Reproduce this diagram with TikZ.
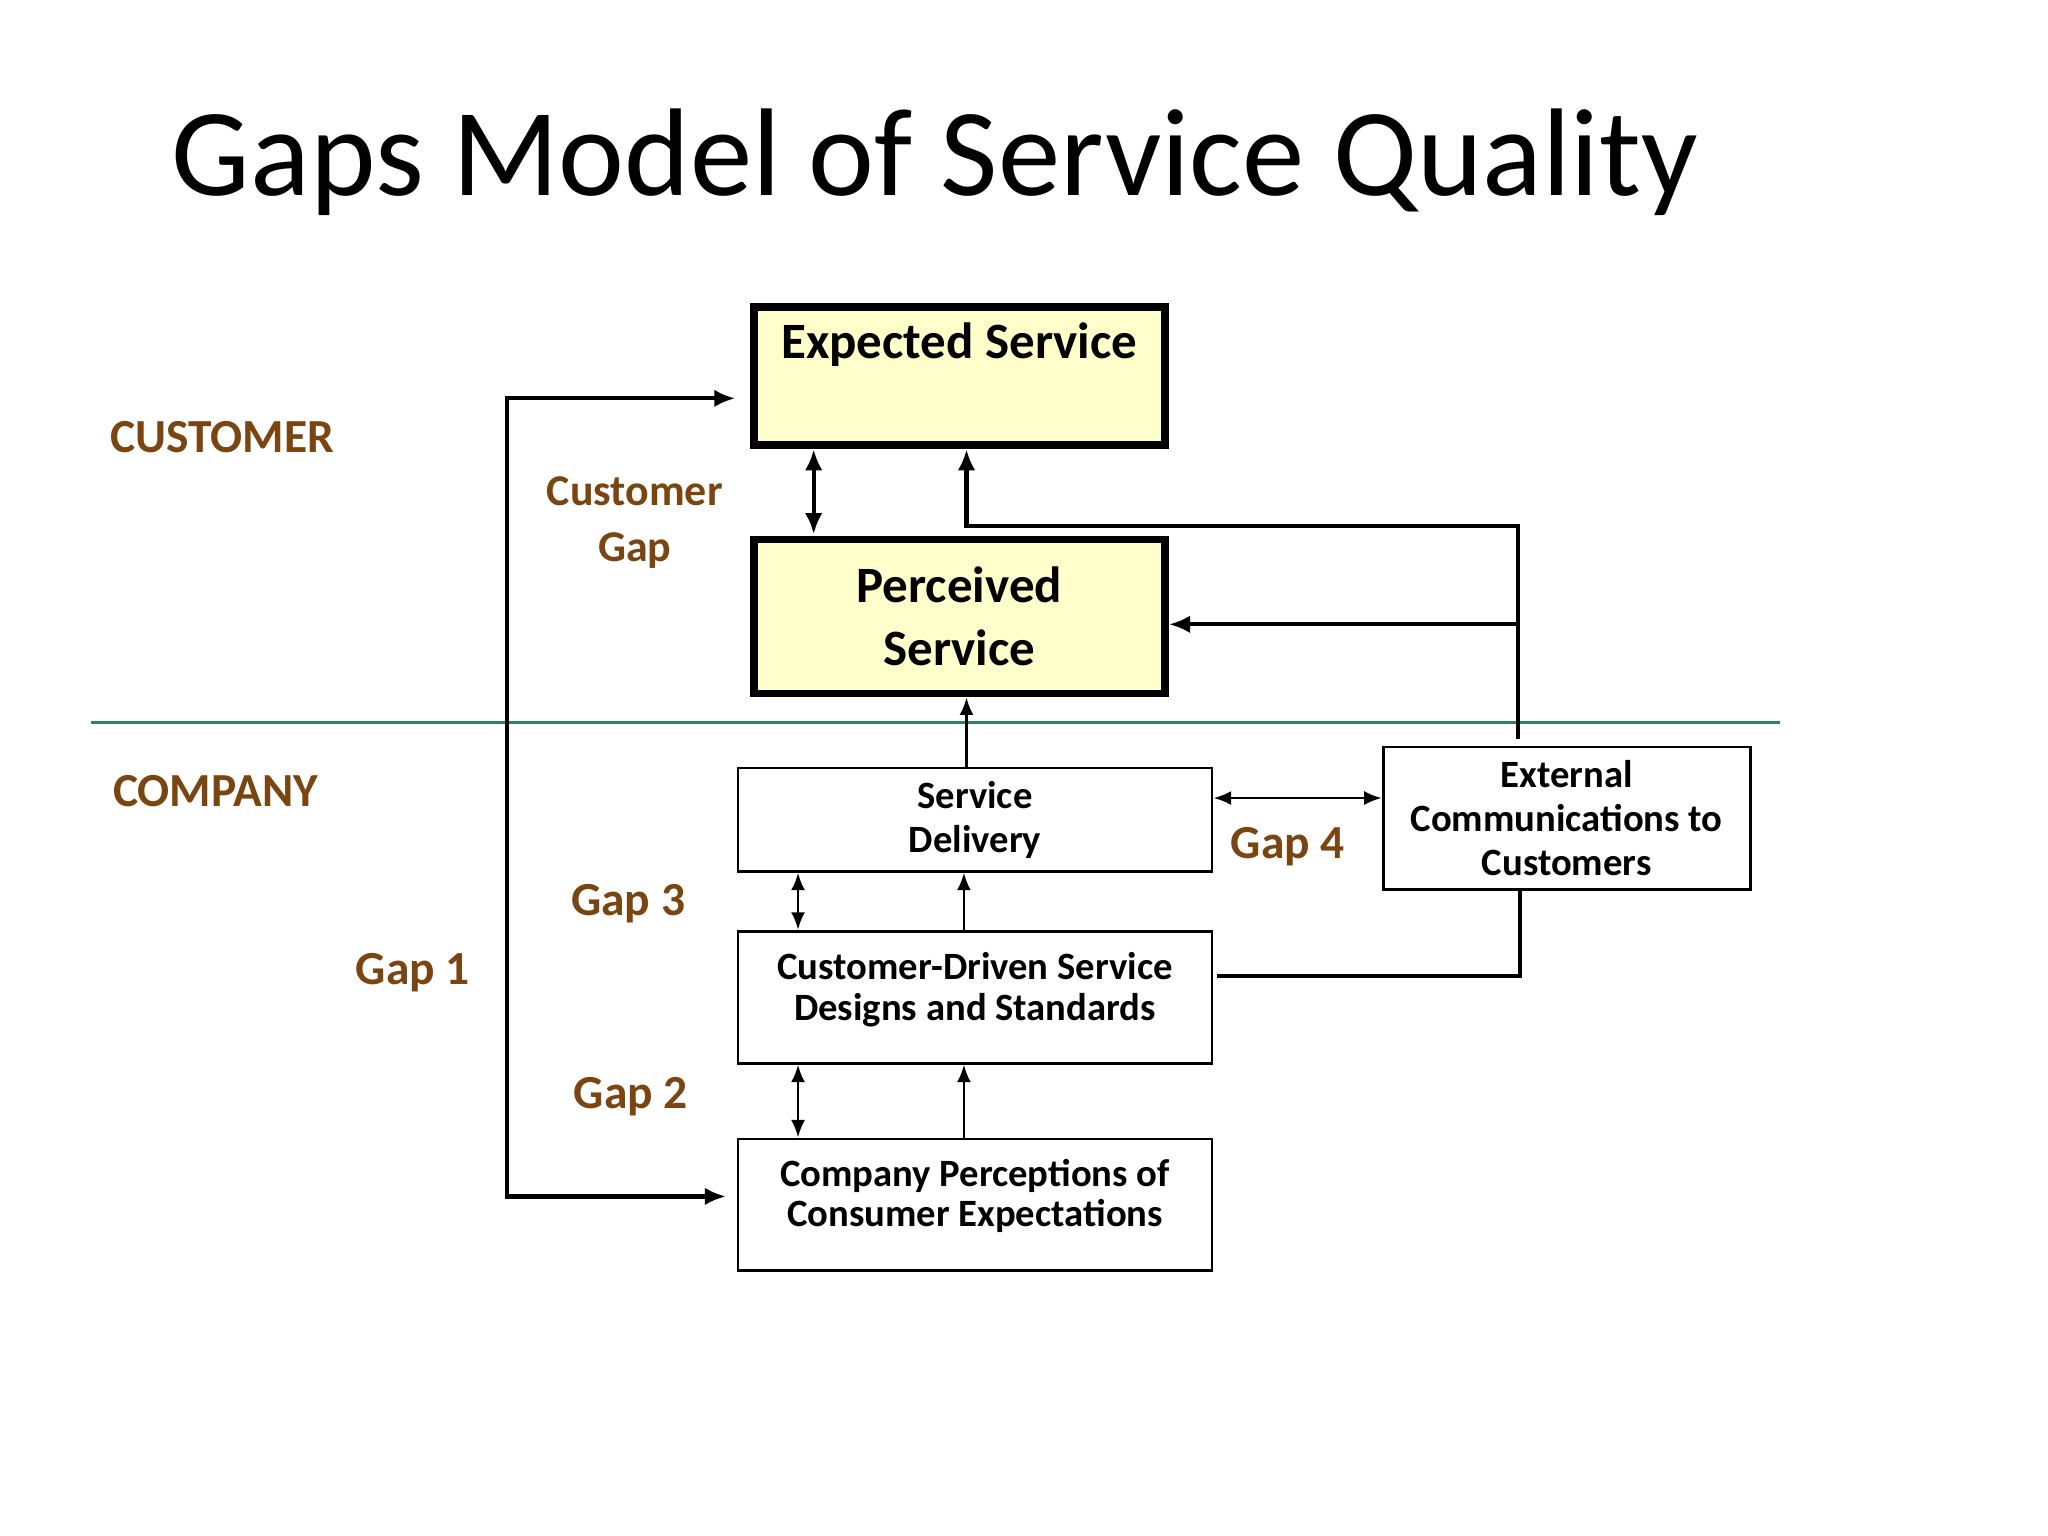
\documentclass[tikz,border=0pt]{standalone}
\usepackage{fontspec}
\setmainfont{Carlito}
\usetikzlibrary{arrows.meta}
\definecolor{brn}{HTML}{7A4510}
\definecolor{yel}{HTML}{FFFFCC}
\definecolor{grn}{HTML}{2E8060}
\begin{document}
\begin{tikzpicture}[x=0.01306cm,y=-0.01306cm,
  big/.style={draw,line width=2.2pt,fill=yel,inner sep=0pt},
  box/.style={draw,line width=0.8pt,inner sep=0pt},
  lab/.style={text=brn,font=\bfseries\fontsize{13.5}{16}\selectfont,align=center},
  txt/.style={font=\bfseries\fontsize{11}{12.5}\selectfont,align=center},
  con/.style={line width=1.2pt,-{Latex[length=6pt,width=5pt]}},
  thin/.style={line width=0.8pt,{Latex[length=5pt,width=4pt]}-{Latex[length=5pt,width=4pt]}},
  thinone/.style={line width=0.8pt,-{Latex[length=5pt,width=4pt]}}]
\useasboundingbox (0,0) rectangle (1568,1176);
\node[anchor=base west,font=\fontsize{35.5}{42}\selectfont] (title) at (122,150) {Gaps Model of Service Quality};
% boxes
\node[big,minimum width=4.114cm,minimum height=1.384cm] (es) at (734.5,288) {};
\node[font=\bfseries\fontsize{14.5}{17}\selectfont] (est) at (734.5,264) {Expected Service};
\node[big,minimum width=4.114cm,minimum height=1.541cm,font=\bfseries\fontsize{14.5}{18}\selectfont,align=center] (ps) at (734.5,472) {Perceived\\Service};
\node[box,minimum width=4.741cm,minimum height=1.032cm,txt] (sd) at (746.5,627.5) {Service\\Delivery};
\node[box,minimum width=3.670cm,minimum height=1.424cm,txt] (ec) at (1199.5,626.5) {External\\Communications to\\Customers};
\node[box,minimum width=4.741cm,minimum height=1.319cm] (cd) at (746.5,763.5) {};
\node[txt,anchor=north,font=\bfseries\fontsize{11}{11.5}\selectfont] (cdt) at (746.5,720) {Customer-Driven Service\\Designs and Standards};
\node[box,minimum width=4.741cm,minimum height=1.319cm] (cp) at (746.5,922.5) {};
\node[txt,anchor=north,font=\bfseries\fontsize{11}{11.5}\selectfont] (cpt) at (746.5,878) {Company Perceptions of\\Consumer Expectations};
% separator
\draw[grn,line width=0.8pt] (70,553) coordinate (l1) -- (1363,553) coordinate (l2);
% labels
\node[lab] (cust) at (170,335) {CUSTOMER};
\node[lab] (comp) at (165,606) {COMPANY};
\node[lab,font=\bfseries\fontsize{12.5}{16}\selectfont] (cg) at (486,400) {Customer\\Gap};
\node[lab] (g4) at (986,648) {Gap 4};
\node[lab] (g3) at (481,692) {Gap 3};
\node[lab] (g1) at (316,745) {Gap 1};
\node[lab] (g2) at (483,840) {Gap 2};
% helper coordinates
\coordinate (a1) at (388,916);
\coordinate (a2) at (388,305);
\coordinate (t1) at (1162,403);
\coordinate (t2) at (1162,478);
\coordinate (x623) at (623,0);
\coordinate (x740) at (740,0);
\coordinate (x611) at (611,0);
\coordinate (x738) at (738,0);
\coordinate (x1164) at (1164,0);
\coordinate (y611) at (0,611);
\coordinate (y747) at (0,747);
% connectors
\draw[con,{Latex[length=6pt,width=5pt]}-{Latex[length=6pt,width=5pt]}] ([xshift=-3]cp.west|-a1) -- (a1) -- (a2) -- ++(175,0);
\draw[con,{Latex[length=6pt,width=5pt]}-{Latex[length=6pt,width=5pt]}] (x623|-es.south) -- (623,409);
\draw[con] ([yshift=2]t1|-ec.north) -- (t1) -- (740,403) -- (x740|-es.south);
\draw[con] (t2) -- (ps.east|-t2);
\draw[thinone] (x740|-sd.north) -- (x740|-ps.south);
\draw[thin] (sd.east|-y611) -- (ec.west|-y611);
\draw[thin] (x611|-sd.south) -- (x611|-cd.north);
\draw[thinone] (x738|-cd.north) -- (x738|-sd.south);
\draw[thin] (x611|-cd.south) -- (x611|-cp.north);
\draw[thinone] (x738|-cp.north) -- (x738|-cd.south);
\draw[line width=1.2pt] ([xshift=1]cd.east|-y747) -- (1164,747) -- (x1164|-ec.south);
\end{tikzpicture}
\end{document}
